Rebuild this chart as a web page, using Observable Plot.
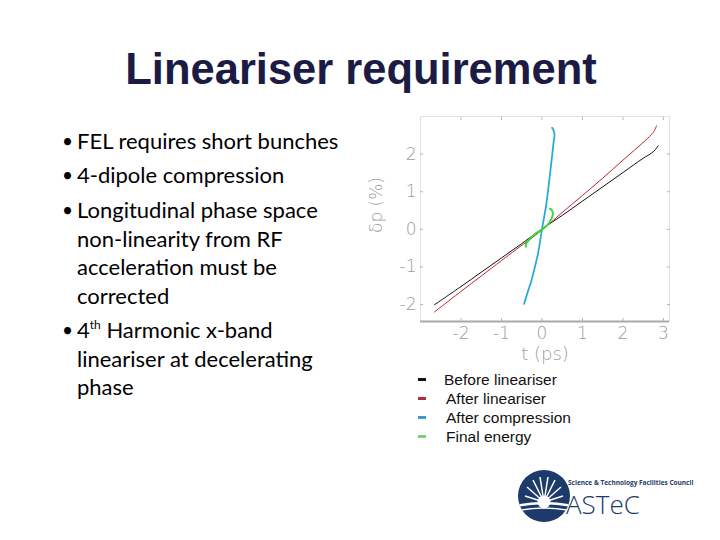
<!DOCTYPE html>
<html><head><meta charset="utf-8">
<script src="https://cdn.jsdelivr.net/npm/d3@7"></script>
<script src="https://cdn.jsdelivr.net/npm/@observablehq/plot@0.6"></script>
<style>
html,body{margin:0;padding:0;background:#fff;}
#slide{position:relative;width:720px;height:540px;overflow:hidden;background:#fff;}
#title{position:absolute;left:0;width:722px;top:45px;text-align:center;font-family:"Liberation Sans",Arial,sans-serif;font-weight:bold;font-size:43.5px;color:#1b1b44;line-height:48px;white-space:nowrap;}
.b{position:absolute;left:77px;font-family:Lato,"Open Sans",sans-serif;font-size:22px;color:#000;line-height:28.7px;white-space:nowrap;}
.b .dot{position:absolute;left:-15px;top:0;font-size:19px;}
sup{font-size:12px;line-height:0;vertical-align:9px;}
#chart{position:absolute;left:360px;top:100px;}
#ylab{position:absolute;left:326px;top:195px;width:100px;height:20px;line-height:20px;text-align:center;transform:rotate(-90deg);font-family:'DejaVu Sans',sans-serif;font-weight:200;font-size:17px;color:#9c9c9c;white-space:nowrap;}
.lg{position:absolute;font-family:"Liberation Sans",Arial,sans-serif;font-size:15.5px;color:#111;line-height:19px;white-space:nowrap;}
.sw{position:absolute;width:8px;height:3px;}
#logo{position:absolute;left:510px;top:460px;}
</style></head>
<body><div id="slide">
<div id="title">Lineariser requirement</div>
<div class="b" style="top:127px"><span class="dot">•</span>FEL requires short bunches</div>
<div class="b" style="top:161px"><span class="dot">•</span>4-dipole compression</div>
<div class="b" style="top:196px"><span class="dot">•</span>Longitudinal phase space<br>non-linearity from RF<br>acceleration must be<br>corrected</div>
<div class="b" style="top:316px"><span class="dot">•</span>4<sup>th</sup> Harmonic x-band<br>lineariser at decelerating<br>phase</div>
<div id="chart"></div>
<div id="ylab"></div>
<div id="legend"></div>
<svg id="logo" width="200" height="70" viewBox="0 0 200 70">
  <defs><clipPath id="cc"><circle cx="34" cy="36" r="26"/></clipPath></defs>
  <circle cx="34" cy="36" r="26" fill="#1c3a6a"/>
  <g clip-path="url(#cc)" stroke="#fff" fill="none">
    <g stroke-width="1.5">
      <line x1="34" y1="42" x2="15" y2="36"/><line x1="34" y1="42" x2="17" y2="27"/>
      <line x1="34" y1="42" x2="23" y2="20"/><line x1="34" y1="42" x2="30" y2="17"/>
      <line x1="34" y1="42" x2="38" y2="17"/><line x1="34" y1="42" x2="45" y2="20"/>
      <line x1="34" y1="42" x2="51" y2="27"/><line x1="34" y1="42" x2="53" y2="36"/>
    </g>
    <circle cx="34" cy="42" r="6.5" fill="#fff" stroke="none"/>
    <path d="M6,46 Q34,40 62,46" stroke-width="2.5"/>
    <path d="M6,51 Q34,45 62,51" stroke-width="1.5"/>
  </g>
  <text x="58" y="25" font-family="'Open Sans',sans-serif" font-weight="bold" font-size="6.5" fill="#1c3a6a">Science &amp; Technology Facilities Council</text>
  <text x="56" y="54" font-family="'Open Sans',sans-serif" font-weight="300" font-size="26" fill="#1c3a6a">ASTeC</text>
</svg>
</div>
<script>
// Series: t (ps) and δp (%)
const seriesNames = ["Before lineariser", "After lineariser", "After compression", "Final energy"];
const seriesColors = ["#111111", "#c0222e", "#2aaad8", "#3ad83a"];
const legendColors = ["#111111", "#a8303e", "#3a9bd0", "#7cd07c"];

const tBefore  = [-2.66, -2.0, -1.5, -1.0, -0.5, 0.0, 0.5, 1.0, 1.5, 2.0, 2.5, 2.71, 2.80, 2.87];
const dpBefore = [-2.01, -1.52, -1.14, -0.76, -0.38, 0.01, 0.37, 0.75, 1.13, 1.51, 1.89, 2.03, 2.12, 2.22];

const tAfterLin  = [-2.66, -2.0, -1.5, -1.0, -0.63, 0.0, 0.47, 1.0, 1.5, 2.0, 2.54, 2.75, 2.83];
const dpAfterLin = [-2.20, -1.65, -1.24, -0.83, -0.53, -0.02, 0.42, 0.90, 1.36, 1.84, 2.35, 2.58, 2.75];

const tComp  = [-0.44, -0.35, -0.26, -0.18, -0.10, 0.0, 0.106, 0.188, 0.245, 0.29, 0.31, 0.29, 0.25];
const dpComp = [-1.98, -1.66, -1.36, -1.02, -0.66, 0.0, 0.66, 1.37, 1.90, 2.34, 2.52, 2.62, 2.70];

const tFinal  = [-0.40, -0.39, -0.34, -0.18, -0.02, 0.15, 0.23, 0.27, 0.25, 0.20];
const dpFinal = [-0.46, -0.38, -0.31, -0.13, -0.02, 0.13, 0.27, 0.40, 0.50, 0.55];

const xDomain = [-3, 3.15];
const yDomain = [-2.45, 3];
const xTicks = [-2, -1, 0, 1, 2, 3];
const yTicks = [-2, -1, 0, 1, 2];
const xLabel = "t (ps)";
const yLabel = "δp (%)";

const tArrays = [tBefore, tAfterLin, tComp, tFinal];
const dpArrays = [dpBefore, dpAfterLin, dpComp, dpFinal];
const widths = [1, 1, 1.8, 2];

const rows = seriesNames.map((name, k) => tArrays[k].map((t, i) => ({series: name, t, dp: dpArrays[k][i]})));

const fmt = d => String(d);
const chart = Plot.plot({
  width: 320, height: 270,
  marginLeft: 60, marginRight: 11, marginTop: 16, marginBottom: 49,
  style: {fontFamily: "'DejaVu Sans', sans-serif", fontWeight: 200, fontSize: "17px", color: "#9c9c9c", background: "transparent"},
  x: {domain: xDomain},
  y: {domain: yDomain},
  color: {domain: seriesNames, range: seriesColors},
  marks: [
    Plot.frame({stroke: "#e2e2e2"}),
    Plot.ruleY([yDomain[0]], {stroke: "#a9a9a9", strokeWidth: 2}),
    Plot.axisX(xTicks, {anchor: "bottom", tickSize: 0, tickPadding: 5, tickFormat: fmt, label: null}),
    Plot.axisY(yTicks, {anchor: "left", tickSize: 0, tickPadding: 4, tickFormat: fmt, label: null}),
    Plot.axisX(xTicks, {anchor: "bottom", tickSize: -3, tickFormat: () => "", label: null, stroke: "#b5b5b5"}),
    Plot.axisX(xTicks, {anchor: "top", tickSize: -3, tickFormat: () => "", label: null, stroke: "#b5b5b5"}),
    Plot.axisY(yTicks, {anchor: "left", tickSize: -3, tickFormat: () => "", label: null, stroke: "#b5b5b5"}),
    Plot.axisY(yTicks, {anchor: "right", tickSize: -3, tickFormat: () => "", label: null, stroke: "#b5b5b5"}),
    Plot.text([xLabel], {frameAnchor: "bottom", dy: 38, fontSize: 18, fill: "#9c9c9c"}),
    ...rows.map((r, k) => Plot.line(r, {x: "t", y: "dp", stroke: "series", strokeWidth: widths[k], curve: "catmull-rom"}))
  ]
});
document.getElementById("chart").appendChild(chart);
document.getElementById("ylab").textContent = yLabel;

// Legend (HTML, beneath the chart)
const legend = document.getElementById("legend");
const legendTop = [370, 389, 408, 427];
const legendTextLeft = [444, 446, 446, 446];
seriesNames.forEach((name, k) => {
  const sw = document.createElement("div");
  sw.className = "sw";
  sw.style.left = "418px";
  sw.style.top = (legendTop[k] + 8) + "px";
  sw.style.background = legendColors[k];
  legend.appendChild(sw);
  const tx = document.createElement("div");
  tx.className = "lg";
  tx.style.left = legendTextLeft[k] + "px";
  tx.style.top = legendTop[k] + "px";
  tx.textContent = name;
  legend.appendChild(tx);
});
</script>
</body></html>
